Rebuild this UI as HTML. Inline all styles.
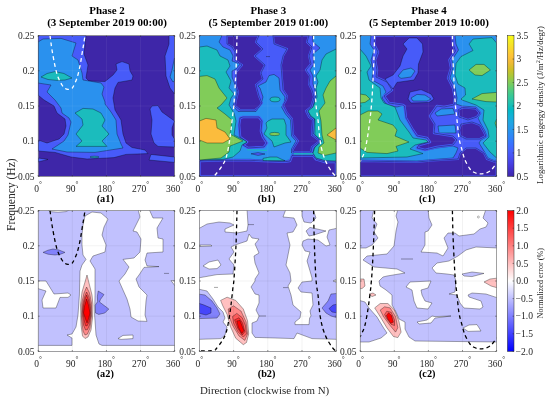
<!DOCTYPE html>
<html><head><meta charset="utf-8"><title>Directional spectra</title>
<style>
html,body{margin:0;padding:0;background:#fff;}
svg{display:block;}
text{font-family:"Liberation Serif","DejaVu Serif",serif;fill:#262626;}
.b{font-weight:bold;fill:#000;}
</style></head><body>
<svg width="550" height="399" viewBox="0 0 550 399">
<rect width="550" height="399" fill="#fff"/>
<clipPath id="c00"><rect x="38.2" y="35.6" width="136.5" height="140.8"/></clipPath>
<g clip-path="url(#c00)">
<rect x="38.2" y="35.6" width="136.5" height="140.8" fill="#3e26a8"/>
<polygon points="38,35.5 86,35.5 84,54 88,65 86,78 89,81 105,81.5 113,75 117,70 116,64 122,61.6 129,64 130,71 133,76 132,80 118,82.4 115,88 113,98 115,110 121,120 123,134 126,143 132,147.5 145,150 148,153.6 126,154.4 114,157.6 107,158 87,159 71,157 55,152.4 38,151 38,140 47,143 59,139 64,134 66,126 65,119 57,113 54,106 44,100 38,95" fill="#475bf9" stroke="#000" stroke-width="0.45" stroke-opacity="0.75" stroke-linejoin="round" />
<polygon points="38,158 48,159.4 38,162" fill="#475bf9" stroke="#000" stroke-width="0.45" stroke-opacity="0.75" stroke-linejoin="round" />
<polygon points="169,35.5 169,44 165,56 166,76 170,88 174.5,94 174.5,35.5" fill="#475bf9" stroke="#000" stroke-width="0.45" stroke-opacity="0.75" stroke-linejoin="round" />
<polygon points="150,109 152,106 158,105.6 162,112 174.5,121 172,128 172,135 174.5,139 174.5,147 158,146.4 154,143 151,134 152,120" fill="#475bf9" stroke="#000" stroke-width="0.45" stroke-opacity="0.75" stroke-linejoin="round" />
<polygon points="149,160 151,154.4 174.5,157 174.5,162.4" fill="#475bf9" stroke="#000" stroke-width="0.45" stroke-opacity="0.75" stroke-linejoin="round" />
<polygon points="38,42 43,39 61,38.4 76,43 72,56 78,60 82,73 83,80 101,83 104,87 102,94 105,102 105,104 111,112 116,120 117,134 121,144 123,148 95,152.4 67,152 52,149 64,141 68,135 71,122 69,118 62,113 61,108 55,100 47,92 51,85 38,83" fill="#2a91ee" stroke="#000" stroke-width="0.45" stroke-opacity="0.75" stroke-linejoin="round" />
<polygon points="174.5,58 172,70 170,77 173,82 174.5,81" fill="#2a91ee" stroke="#000" stroke-width="0.45" stroke-opacity="0.75" stroke-linejoin="round" />
<polygon points="41,77 47,73.5 55,71.6 64,73.5 72,78 65,80 57,80.4 48,79.5" fill="#1bbcbd" stroke="#000" stroke-width="0.45" stroke-opacity="0.75" stroke-linejoin="round" />
<polygon points="75,113 83,108.4 93,109 101,113 105,120 102,126 109,134 102,141 107,146.4 76,146.4 82,141 76,134 83,125 82,119" fill="#1bbcbd" stroke="#000" stroke-width="0.45" stroke-opacity="0.75" stroke-linejoin="round" />
<ellipse cx="94.5" cy="157" rx="4.5" ry="0.8" fill="#1bbcbd" stroke="#000" stroke-width="0.45" stroke-opacity="0.75" stroke-linejoin="round"/>
<line x1="72.325" y1="35.6" x2="72.325" y2="176.4" stroke="#fff" stroke-opacity="0.12" stroke-width="0.5"/>
<line x1="38.2" y1="70.8" x2="174.7" y2="70.8" stroke="#fff" stroke-opacity="0.12" stroke-width="0.5"/>
<line x1="106.45" y1="35.6" x2="106.45" y2="176.4" stroke="#fff" stroke-opacity="0.12" stroke-width="0.5"/>
<line x1="38.2" y1="106" x2="174.7" y2="106" stroke="#fff" stroke-opacity="0.12" stroke-width="0.5"/>
<line x1="140.575" y1="35.6" x2="140.575" y2="176.4" stroke="#fff" stroke-opacity="0.12" stroke-width="0.5"/>
<line x1="38.2" y1="141.2" x2="174.7" y2="141.2" stroke="#fff" stroke-opacity="0.12" stroke-width="0.5"/>
<path d="M50,35.5 C50.17,36.75 50.67,40.58 51.00,43.00 C51.33,45.42 51.33,46.17 52.00,50.00 C52.67,53.83 54.00,61.50 55.00,66.00 C56.00,70.50 56.83,73.83 58.00,77.00 C59.17,80.17 60.83,83.12 62.00,85.00 C63.17,86.88 64.00,87.57 65.00,88.30 C66.00,89.03 67.00,89.35 68.00,89.40 C69.00,89.45 70.17,89.00 71.00,88.60 C71.83,88.20 72.00,88.77 73.00,87.00 C74.00,85.23 75.83,81.50 77.00,78.00 C78.17,74.50 79.17,70.00 80.00,66.00 C80.83,62.00 81.42,57.50 82.00,54.00 C82.58,50.50 83.00,48.08 83.50,45.00 C84.00,41.92 84.75,37.08 85.00,35.50" fill="none" stroke="#fff" stroke-width="1.3" stroke-dasharray="3.8,3.2"/>
</g>
<rect x="38.2" y="35.6" width="136.5" height="140.8" fill="none" stroke="#555" stroke-width="0.55"/>
<clipPath id="c01"><rect x="199.4" y="35.6" width="136.8" height="140.8"/></clipPath>
<g clip-path="url(#c01)">
<rect x="199.4" y="35.6" width="136.8" height="140.8" fill="#475bf9"/>
<polygon points="199.5,35.5 222,35.5 219,42 223,47 230,50 233,56 232,61 240,64 236,69 232,71 232,77 234,82 237,92 235,100 233,106 238,111.5 256,111.5 261,104.5 263,97 260,88 258,86 266,82 269,75.6 274,74.4 279,78 280,90 285,97 284,104 281.5,107 285.5,114 290.5,120 291.5,136 296,141 291.5,149 291.5,153 313,153 314,148 321.5,141 313.5,134 314.5,119 310.5,116.5 308,111 313,107 315.5,97 315,90 313,84 313,76 310,70 314,64 313,54 320,48 313,42 312.5,35.5 336,35.5 336,161 325,161 316,158.5 313.5,154.5 292,154.5 290,160 285,160.7 263,160 250,159.3 223,159.4 199.5,160" fill="#2a91ee" stroke="#000" stroke-width="0.45" stroke-opacity="0.75" stroke-linejoin="round" />
<polygon points="227,35.5 259,35.5 256,42 263,49 255,56 265,65 261,73 263,79 256,85 259,96 262,103 259,107 255,110 240,110 235,106 236,100 238,92 236,86 236,72 242,65 235,60 235,52 232,47 227,44" fill="#3e26a8" stroke="#475bf9" stroke-width="2" stroke-linejoin="round"/>
<polygon points="227,35.5 259,35.5 256,42 263,49 255,56 265,65 261,73 263,79 256,85 259,96 262,103 259,107 255,110 240,110 235,106 236,100 238,92 236,86 236,72 242,65 235,60 235,52 232,47 227,44" fill="none" stroke="#000" stroke-width="0.45" stroke-opacity="0.75" stroke-linejoin="round"/>
<polygon points="273,35.5 274,44 287,49 283,56 281,65 282,78 283,90 287,96 286,100 283,105 287,113 292,119 293,135 298,141 293,149 293,152 311,152 312,147 320,141 312,135 313,120 309,117 306,111 311,107 314,97 312,90 309,84 310,76 306,70 311,64 309,56 312,47 307,42 309,35.5" fill="#3e26a8" stroke="#475bf9" stroke-width="2" stroke-linejoin="round"/>
<polygon points="273,35.5 274,44 287,49 283,56 281,65 282,78 283,90 287,96 286,100 283,105 287,113 292,119 293,135 298,141 293,149 293,152 311,152 312,147 320,141 312,135 313,120 309,117 306,111 311,107 314,97 312,90 309,84 310,76 306,70 311,64 309,56 312,47 307,42 309,35.5" fill="none" stroke="#000" stroke-width="0.45" stroke-opacity="0.75" stroke-linejoin="round"/>
<polygon points="199.5,161 223,160.4 250,160.3 263,161 285,161.7 290,161 292,155.5 313,155.5 316,159.4 325,162 336,162 336,176.5 199.5,176.5" fill="#3e26a8" stroke="#475bf9" stroke-width="2.4" stroke-linejoin="round"/>
<polygon points="199.5,161 223,160.4 250,160.3 263,161 285,161.7 290,161 292,155.5 313,155.5 316,159.4 325,162 336,162 336,176.5 199.5,176.5" fill="none" stroke="#000" stroke-width="0.45" stroke-opacity="0.75" stroke-linejoin="round"/>
<polygon points="240,118 243,117 259,117 262,121 261,131 263,137 267,143 264,147 248,148 243,145 247,142 240,137 239,125" fill="#3e26a8" stroke="#475bf9" stroke-width="2.6" stroke-linejoin="round"/>
<polygon points="240,118 243,117 259,117 262,121 261,131 263,137 267,143 264,147 248,148 243,145 247,142 240,137 239,125" fill="none" stroke="#000" stroke-width="0.45" stroke-opacity="0.75" stroke-linejoin="round"/>
<polygon points="251,153.8 258,152.6 265,154 258,155.4" fill="#475bf9" stroke="#000" stroke-width="0.45" stroke-opacity="0.75" stroke-linejoin="round" />
<polygon points="199.5,47 207,46 217,50 220,56 228,60 230,66 226,72 231,81 229,88 234,94 231,98 229,105 234,113 236,121 234,135 244,140 247,142 242,145 240,151 233,157 223,159.4 199.5,160" fill="#1bbcbd" stroke="#000" stroke-width="0.45" stroke-opacity="0.75" stroke-linejoin="round" />
<ellipse cx="275" cy="99.4" rx="5" ry="2.4" fill="#1bbcbd" stroke="#000" stroke-width="0.45" stroke-opacity="0.75" stroke-linejoin="round"/>
<polygon points="268,121 272,119 284,119 286,125 286,135 291,142 285,143 274,147 272,141 264,134 267,128 266,123" fill="#1bbcbd" stroke="#000" stroke-width="0.45" stroke-opacity="0.75" stroke-linejoin="round" />
<polygon points="263,158.4 270,157 277,157 281,159 285,160.7 263,160.5" fill="#1bbcbd" stroke="#000" stroke-width="0.45" stroke-opacity="0.75" stroke-linejoin="round" />
<polygon points="294,153.2 313,153.2 313,154.4 294,154.4" fill="#1bbcbd"  />
<polygon points="247,149.2 267,150 267,150.9 247,150.2" fill="#1bbcbd"  />
<polygon points="336,49 326,54 322,60 320,70 316,76 318,82 316,88 317,97 313,107 308,111 311,116 315,119 315,135 322,141 315,147 313,153 316,158 325,160.6 336,161" fill="#1bbcbd" stroke="#000" stroke-width="0.45" stroke-opacity="0.75" stroke-linejoin="round" />
<polygon points="199.5,76.4 207,75.6 215,79 219,88 227,98 221,105 217,108 225,114 232,120 230,134 243,141 230,146 229,152 221,158 199.5,160" fill="#81cc59" stroke="#000" stroke-width="0.45" stroke-opacity="0.75" stroke-linejoin="round" />
<polygon points="336,76 330,81 326,88 323,95 325,103 319,111 321,121 322,135 324,143 319,147 318,153 325,155.4 336,153" fill="#81cc59" stroke="#000" stroke-width="0.45" stroke-opacity="0.75" stroke-linejoin="round" />
<ellipse cx="274.6" cy="134" rx="5" ry="1.6" fill="#81cc59" stroke="#000" stroke-width="0.45" stroke-opacity="0.75" stroke-linejoin="round"/>
<polygon points="199.5,121 206,118.4 216,120 217,128 225,132 230,139 223,143 207,143 199.5,140" fill="#fbbc3d" stroke="#000" stroke-width="0.45" stroke-opacity="0.75" stroke-linejoin="round" />
<polygon points="336,128 327,135 336,140" fill="#fbbc3d" stroke="#000" stroke-width="0.45" stroke-opacity="0.75" stroke-linejoin="round" />
<line x1="266" y1="56.6" x2="270" y2="56.6" stroke="#000" stroke-opacity="0.7" stroke-width="0.5"/>
<line x1="233.6" y1="35.6" x2="233.6" y2="176.4" stroke="#fff" stroke-opacity="0.12" stroke-width="0.5"/>
<line x1="199.4" y1="70.8" x2="336.2" y2="70.8" stroke="#fff" stroke-opacity="0.12" stroke-width="0.5"/>
<line x1="267.8" y1="35.6" x2="267.8" y2="176.4" stroke="#fff" stroke-opacity="0.12" stroke-width="0.5"/>
<line x1="199.4" y1="106" x2="336.2" y2="106" stroke="#fff" stroke-opacity="0.12" stroke-width="0.5"/>
<line x1="302" y1="35.6" x2="302" y2="176.4" stroke="#fff" stroke-opacity="0.12" stroke-width="0.5"/>
<line x1="199.4" y1="141.2" x2="336.2" y2="141.2" stroke="#fff" stroke-opacity="0.12" stroke-width="0.5"/>
<path d="M237,35.5 C236.83,41.25 236.50,58.58 236.00,70.00 C235.50,81.42 234.50,97.00 234.00,104.00 C233.50,111.00 233.50,107.67 233.00,112.00 C232.50,116.33 231.67,124.67 231.00,130.00 C230.33,135.33 229.83,139.33 229.00,144.00 C228.17,148.67 227.17,154.33 226.00,158.00 C224.83,161.67 223.67,163.33 222.00,166.00 C220.33,168.67 217.50,172.25 216.00,174.00 C214.50,175.75 213.50,176.08 213.00,176.50" fill="none" stroke="#fff" stroke-width="1.3" stroke-dasharray="3.8,3.2"/>
<path d="M313.6,35.5 C313.67,38.92 313.83,49.25 314.00,56.00 C314.17,62.75 314.33,69.00 314.60,76.00 C314.87,83.00 315.28,92.33 315.60,98.00 C315.92,103.67 316.10,106.33 316.50,110.00 C316.90,113.67 317.42,115.00 318.00,120.00 C318.58,125.00 319.17,134.33 320.00,140.00 C320.83,145.67 321.83,150.00 323.00,154.00 C324.17,158.00 325.50,161.00 327.00,164.00 C328.50,167.00 330.50,169.92 332.00,172.00 C333.50,174.08 335.33,175.75 336.00,176.50" fill="none" stroke="#fff" stroke-width="1.3" stroke-dasharray="3.8,3.2"/>
</g>
<rect x="199.4" y="35.6" width="136.8" height="140.8" fill="none" stroke="#555" stroke-width="0.55"/>
<clipPath id="c02"><rect x="360.2" y="35.6" width="136.4" height="140.8"/></clipPath>
<g clip-path="url(#c02)">
<rect x="360.2" y="35.6" width="136.4" height="140.8" fill="#475bf9"/>
<polygon points="360,35.5 371,35.5 370,44 374,50 371,60 373,70 372,80 383,86 386,92 382,98 387,105 397,107 404,105 406,118 413,130 417,136 427,138 430,142 419,145 417,148 425,150.5 437,148 453,146 458,148 456,153 453,158 432,159.6 417,161 360,160" fill="#2a91ee" stroke="#000" stroke-width="0.45" stroke-opacity="0.75" stroke-linejoin="round" />
<polygon points="435,113 441,109 453,108.4 455,114 437,116" fill="#2a91ee" stroke="#000" stroke-width="0.45" stroke-opacity="0.75" stroke-linejoin="round" />
<polygon points="438,126 455,125 456,133 439,133" fill="#2a91ee" stroke="#000" stroke-width="0.45" stroke-opacity="0.75" stroke-linejoin="round" />
<polygon points="455,35.5 456,44 458.5,50 452,60 453,68 450,78 455,87 457,98 456,104 462,106 476,107 481,113 478,118 481,124 485,131 487,136.5 481,140 479,143 484,151 488,158 494,160.5 496.6,160 496.6,35.5" fill="#2a91ee" stroke="#000" stroke-width="0.45" stroke-opacity="0.75" stroke-linejoin="round" />
<polygon points="375,35.5 452.5,35.5 453,44 455.5,51 449.5,60 451,68 448,78 453,88 455,98 454,105 444,107 437,106 430,116 435,124 434,133 453,136 457,140 453,145 437,147 425,150 417,148 419,145 430,142 427,138 417,136 413,130 406,118 404.5,106 403,105 389,103 384,96 392,90 387,82 376,77 377,70 375,60 378,52 374,44" fill="#3e26a8" stroke="#475bf9" stroke-width="2.4" stroke-linejoin="round"/>
<polygon points="375,35.5 452.5,35.5 453,44 455.5,51 449.5,60 451,68 448,78 453,88 455,98 454,105 444,107 437,106 430,116 435,124 434,133 453,136 457,140 453,145 437,147 425,150 417,148 419,145 430,142 427,138 417,136 413,130 406,118 404.5,106 403,105 389,103 384,96 392,90 387,82 376,77 377,70 375,60 378,52 374,44" fill="none" stroke="#000" stroke-width="0.45" stroke-opacity="0.75" stroke-linejoin="round"/>
<polygon points="403,44 409,38 417,38 422.5,44 423,52 418.5,64 418,73 414,80 397,82.4 393,89 388,83 385,79 393,75 400,66 403,56 407,49" fill="#475bf9" stroke="#000" stroke-width="0.45" stroke-opacity="0.75" stroke-linejoin="round" />
<polygon points="408,99 410,92 421,89.6 431,94 434,99 429,102.4 411,103" fill="#475bf9" stroke="#000" stroke-width="0.45" stroke-opacity="0.75" stroke-linejoin="round" />
<polygon points="398,76 403,70 411,68 415,71 411,77 401,78.4" fill="#2a91ee" stroke="#000" stroke-width="0.45" stroke-opacity="0.75" stroke-linejoin="round" />
<polygon points="411,98 417,94.4 425,95 431,99 427,101 413,101" fill="#2a91ee" stroke="#000" stroke-width="0.45" stroke-opacity="0.75" stroke-linejoin="round" />
<polygon points="458,110 462,107.5 476,108.5 480,113 477,117 468,120 459,117" fill="#3e26a8" stroke="#475bf9" stroke-width="2.2" stroke-linejoin="round"/>
<polygon points="458,110 462,107.5 476,108.5 480,113 477,117 468,120 459,117" fill="none" stroke="#000" stroke-width="0.45" stroke-opacity="0.75" stroke-linejoin="round"/>
<polygon points="461,124 472,122 480,125 484,132 486,136 480,139 466,139 460,136 459,130" fill="#3e26a8" stroke="#475bf9" stroke-width="2.2" stroke-linejoin="round"/>
<polygon points="461,124 472,122 480,125 484,132 486,136 480,139 466,139 460,136 459,130" fill="none" stroke="#000" stroke-width="0.45" stroke-opacity="0.75" stroke-linejoin="round"/>
<polygon points="360,161 417,162 432,160.6 458,159 460,153 466,148 476,148 484,153 487,159 494,161.5 496.6,161 496.6,176.5 360,176.5" fill="#3e26a8" stroke="#475bf9" stroke-width="2" stroke-linejoin="round"/>
<polygon points="360,161 417,162 432,160.6 458,159 460,153 466,148 476,148 484,153 487,159 494,161.5 496.6,161 496.6,176.5 360,176.5" fill="none" stroke="#000" stroke-width="0.45" stroke-opacity="0.75" stroke-linejoin="round"/>
<polygon points="360,49 366,56 371,66 367,72 369,80 380,88 381,98 384,103 395,107 400,120 409,132 413,138 426,140 428,142 415,145 410,149 423,153.6 407,157 360,158" fill="#1bbcbd" stroke="#000" stroke-width="0.45" stroke-opacity="0.75" stroke-linejoin="round" />
<polygon points="469,44 473,39 492,37.6 496.6,43 496.6,158 490,152 483,143 489,137 488,130 483,120 484,110 476,105 462,100 461,99 465.5,95 465,88 458,84 455,75 456,63.5 461,56.5 473,50.5 470,45.5" fill="#1bbcbd" stroke="#000" stroke-width="0.45" stroke-opacity="0.75" stroke-linejoin="round" />
<polygon points="360,94 366,95 370,99 365,102.4 360,103" fill="#81cc59" stroke="#000" stroke-width="0.45" stroke-opacity="0.75" stroke-linejoin="round" />
<polygon points="360,115 368,111 378,111 382,114 378,120 393,125 397,130 395,136 409,142 396,146.4 398,151 387,153.6 367,152.4 360,148" fill="#81cc59" stroke="#000" stroke-width="0.45" stroke-opacity="0.75" stroke-linejoin="round" />
<polygon points="469,70 476,64.4 484,64.4 490.4,70 482,75.6 475,75" fill="#81cc59" stroke="#000" stroke-width="0.45" stroke-opacity="0.75" stroke-linejoin="round" />
<polygon points="472,99 482,93.6 496.6,92.4 496.6,102 486,101.6" fill="#81cc59" stroke="#000" stroke-width="0.45" stroke-opacity="0.75" stroke-linejoin="round" />
<polygon points="496.6,119 495,123 496.6,128" fill="#81cc59" stroke="#000" stroke-width="0.45" stroke-opacity="0.75" stroke-linejoin="round" />
<line x1="394.3" y1="35.6" x2="394.3" y2="176.4" stroke="#fff" stroke-opacity="0.12" stroke-width="0.5"/>
<line x1="360.2" y1="70.8" x2="496.6" y2="70.8" stroke="#fff" stroke-opacity="0.12" stroke-width="0.5"/>
<line x1="428.4" y1="35.6" x2="428.4" y2="176.4" stroke="#fff" stroke-opacity="0.12" stroke-width="0.5"/>
<line x1="360.2" y1="106" x2="496.6" y2="106" stroke="#fff" stroke-opacity="0.12" stroke-width="0.5"/>
<line x1="462.5" y1="35.6" x2="462.5" y2="176.4" stroke="#fff" stroke-opacity="0.12" stroke-width="0.5"/>
<line x1="360.2" y1="141.2" x2="496.6" y2="141.2" stroke="#fff" stroke-opacity="0.12" stroke-width="0.5"/>
<path d="M374.6,35.5 C374.50,38.92 374.27,48.58 374.00,56.00 C373.73,63.42 373.33,73.00 373.00,80.00 C372.67,87.00 372.33,93.00 372.00,98.00 C371.67,103.00 371.23,107.33 371.00,110.00 C370.77,112.67 371.10,110.00 370.60,114.00 C370.10,118.00 368.93,128.00 368.00,134.00 C367.07,140.00 366.00,146.00 365.00,150.00 C364.00,154.00 362.83,156.00 362.00,158.00 C361.17,160.00 360.33,161.33 360.00,162.00" fill="none" stroke="#fff" stroke-width="1.3" stroke-dasharray="3.8,3.2"/>
<path d="M452.4,35.5 C452.50,39.58 452.67,50.92 453.00,60.00 C453.33,69.08 454.00,82.50 454.40,90.00 C454.80,97.50 454.97,100.00 455.40,105.00 C455.83,110.00 456.40,114.50 457.00,120.00 C457.60,125.50 458.17,133.00 459.00,138.00 C459.83,143.00 461.00,146.33 462.00,150.00 C463.00,153.67 463.67,156.83 465.00,160.00 C466.33,163.17 468.50,166.95 470.00,169.00 C471.50,171.05 472.67,171.53 474.00,172.30 C475.33,173.07 476.67,173.35 478.00,173.60 C479.33,173.85 480.67,173.90 482.00,173.80 C483.33,173.70 484.67,173.47 486.00,173.00 C487.33,172.53 488.83,171.83 490.00,171.00 C491.17,170.17 491.90,169.33 493.00,168.00 C494.10,166.67 496.00,163.83 496.60,163.00" fill="none" stroke="#fff" stroke-width="1.3" stroke-dasharray="3.8,3.2"/>
</g>
<rect x="360.2" y="35.6" width="136.4" height="140.8" fill="none" stroke="#555" stroke-width="0.55"/>
<clipPath id="c10"><rect x="38.2" y="210.6" width="136.5" height="140.8"/></clipPath>
<g clip-path="url(#c10)">
<rect x="38.2" y="210.6" width="136.5" height="140.8" fill="#c1c1fe"/>
<polygon points="85,216 92,212 101,213 108,219 104,227 102,235 106,245 105,252 93,256 90,261 95,269 95,295 94.6,315 96,335 99,344 102,345.4 176,345.4 176,353 36,353 36,345.4 72,345.4 72,338 67,335 72,334 76,327 78,315 79.4,295 80,271 82,265 86,259.4 83,255 82,245 82,235 83,225" fill="#ffffff" stroke="#000" stroke-width="0.45" stroke-opacity="0.75" stroke-linejoin="round" />
<polygon points="138,209 149,209 153,218 163,218 157,228 158,238 163,239 163,252 147,253 145,260 147,266 159,266.6 144,267.4 139,275 136,279 139,287 147,295 146,301 145,315 147,321.4 138,321 131,317 130,309 127,299 119,281 125,274 129,267 123,259.4 134,258 140,252 141,239 137,232 133,231 137,223 140,217" fill="#ffffff" stroke="#000" stroke-width="0.45" stroke-opacity="0.75" stroke-linejoin="round" />
<polygon points="36,281 46,281 54,294 68,293 71,295 68,297.4 60,297.4 56,308 43,308 42,300 46,291 36,288" fill="#ffffff" stroke="#000" stroke-width="0.45" stroke-opacity="0.75" stroke-linejoin="round" />
<polygon points="118,338.6 123,335.4 133,335 133,338.6 121,339.4" fill="#ffffff" stroke="#000" stroke-width="0.45" stroke-opacity="0.75" stroke-linejoin="round" />
<polygon points="171,280.6 176,280.6 176,287" fill="#ffffff" stroke="#000" stroke-width="0.45" stroke-opacity="0.75" stroke-linejoin="round" />
<polygon points="47,209 71,209 66,211.6 58,212.2 50,211.6" fill="#ffffff" stroke="#000" stroke-width="0.45" stroke-opacity="0.75" stroke-linejoin="round" />
<polygon points="43,252.4 48,250.2 53,249 59,250 65,252.4 60,254.4 55,255 48,254.2" fill="#8282fb" stroke="#000" stroke-width="0.45" stroke-opacity="0.75" stroke-linejoin="round" />
<polygon points="98.2,291 104,294.6 100.4,299.5 99.5,302 108.8,309 104.8,313 98.7,314.4 95.6,313 95.2,305.2 97.6,301.7 97.4,296.4" fill="#8282fb" stroke="#000" stroke-width="0.45" stroke-opacity="0.75" stroke-linejoin="round" />
<polygon points="87,275 89.5,285 92,295 93,305 92.5,318 91,330 88,337 85,338.5 82.5,336 81,325 80.5,305 82,292 85,282" fill="#ffc0c0" stroke="#000" stroke-width="0.45" stroke-opacity="0.75" stroke-linejoin="round" />
<polygon points="86.6,287 89.5,293 91.5,303 91.5,316 90,328 87.5,334 85,335 83,331 81.5,318 81.8,303 84,293" fill="#ff8888" stroke="#000" stroke-width="0.45" stroke-opacity="0.75" stroke-linejoin="round" />
<polygon points="86.6,292 89,297 90.8,306 90.8,316 89.5,325 87.5,329.5 85.5,330 83.5,325 82.3,314 82.8,304 84.5,297" fill="#ff5c5c" stroke="#000" stroke-width="0.45" stroke-opacity="0.75" stroke-linejoin="round" />
<polygon points="86.6,295 88.5,300 90.2,308 90.2,316 89,322 87,326 85.5,325.5 84,320 83,312 83.5,305 85,299" fill="#ff3030" stroke="#000" stroke-width="0.45" stroke-opacity="0.75" stroke-linejoin="round" />
<polygon points="86.6,299 88.5,305 90,313 88.5,319 87,323 85.5,319 83.5,313 84.5,306" fill="#ff0000" stroke="#000" stroke-width="0.45" stroke-opacity="0.75" stroke-linejoin="round" />
<line x1="164" y1="273.4" x2="169" y2="273.4" stroke="#000" stroke-opacity="0.7" stroke-width="0.5"/>
<line x1="72.325" y1="210.6" x2="72.325" y2="351.4" stroke="#000" stroke-opacity="0.1" stroke-width="0.5"/>
<line x1="38.2" y1="245.8" x2="174.7" y2="245.8" stroke="#000" stroke-opacity="0.1" stroke-width="0.5"/>
<line x1="106.45" y1="210.6" x2="106.45" y2="351.4" stroke="#000" stroke-opacity="0.1" stroke-width="0.5"/>
<line x1="38.2" y1="281" x2="174.7" y2="281" stroke="#000" stroke-opacity="0.1" stroke-width="0.5"/>
<line x1="140.575" y1="210.6" x2="140.575" y2="351.4" stroke="#000" stroke-opacity="0.1" stroke-width="0.5"/>
<line x1="38.2" y1="316.2" x2="174.7" y2="316.2" stroke="#000" stroke-opacity="0.1" stroke-width="0.5"/>
<path d="M50,210.5 C50.17,211.75 50.67,215.58 51.00,218.00 C51.33,220.42 51.33,221.17 52.00,225.00 C52.67,228.83 54.00,236.50 55.00,241.00 C56.00,245.50 56.83,248.83 58.00,252.00 C59.17,255.17 60.83,258.12 62.00,260.00 C63.17,261.88 64.00,262.57 65.00,263.30 C66.00,264.03 67.00,264.35 68.00,264.40 C69.00,264.45 70.17,264.00 71.00,263.60 C71.83,263.20 72.00,263.77 73.00,262.00 C74.00,260.23 75.83,256.50 77.00,253.00 C78.17,249.50 79.17,245.00 80.00,241.00 C80.83,237.00 81.42,232.50 82.00,229.00 C82.58,225.50 83.00,223.08 83.50,220.00 C84.00,216.92 84.75,212.08 85.00,210.50" fill="none" stroke="#000" stroke-width="1.3" stroke-dasharray="3.8,3.2"/>
</g>
<rect x="38.2" y="210.6" width="136.5" height="140.8" fill="none" stroke="#555" stroke-width="0.55"/>
<clipPath id="c11"><rect x="199.4" y="210.6" width="136.8" height="140.8"/></clipPath>
<g clip-path="url(#c11)">
<rect x="199.4" y="210.6" width="136.8" height="140.8" fill="#c1c1fe"/>
<polygon points="198,209 247,209 248,225 247,231 237,233 225,232 225,229 234,225 230,223 219,222 207,224 198,229" fill="#ffffff" stroke="#000" stroke-width="0.45" stroke-opacity="0.75" stroke-linejoin="round" />
<polygon points="249,234 252,238 259,239 255,244 259,253 254,256 255,263 259,273 255,279 255,281 251,287 255,294 259,295 259,303 256,310 259,316 257,321 252,323 252,333 255,337.4 294,338.6 297,333 312,338.6 338,339.4 338,353 198,353 198,339.4 221,338.6 225,335 227,327 223,322 225,318 223,312 218,307 213,299 207,291 198,289 198,278 217,274.6 233,274 234,265 229,259 234,252 231,247 235,245 247,241" fill="#ffffff" stroke="#000" stroke-width="0.45" stroke-opacity="0.75" stroke-linejoin="round" />
<polygon points="198,245 211,245 212,246 198,246.6" fill="#ffffff" stroke="#000" stroke-width="0.45" stroke-opacity="0.75" stroke-linejoin="round" />
<polygon points="203,266 209,262 218,260 221,265 217,268.6 209,269" fill="#ffffff" stroke="#000" stroke-width="0.45" stroke-opacity="0.75" stroke-linejoin="round" />
<polygon points="286,209 283,217 294,218 297,225 293,232 287,233 290,245 288,255 286,265 290,273 291,281 288,286 291,295 293,305 301,312 300,318 295,322 295,324.6 309,324.6 309.6,318 311,316 310,311 313,305 312,293 301,292 298,288 302,282 312,281 312,278 310,271 307,261 310,252 305,251 302,245 303,241 308,239 318,240 326,246 330,245 327,237 329,230 338,228 338,209" fill="#ffffff" stroke="#000" stroke-width="0.45" stroke-opacity="0.75" stroke-linejoin="round" />
<polygon points="302,209 313,209 316,218 311,223 304,222 302,216" fill="#c1c1fe" stroke="#000" stroke-width="0.45" stroke-opacity="0.75" stroke-linejoin="round" />
<polygon points="306,231 310,227.4 326,231 314,235 309,236" fill="#c1c1fe" stroke="#000" stroke-width="0.45" stroke-opacity="0.75" stroke-linejoin="round" />
<polygon points="333,281 338,278.5 338,283" fill="#ffffff" stroke="#000" stroke-width="0.45" stroke-opacity="0.75" stroke-linejoin="round" />
<polygon points="198,294 205,295 212,301 217,308 220,314 217,318 198,318.6" fill="#8282fb" stroke="#000" stroke-width="0.45" stroke-opacity="0.75" stroke-linejoin="round" />
<polygon points="198,303 204,305 211,308 211,313 206,315 198,313" fill="#4646fa" stroke="#000" stroke-width="0.45" stroke-opacity="0.75" stroke-linejoin="round" />
<polygon points="322,308 328,301 331,294 338,293.4 338,318 331,316 326,313" fill="#8282fb" stroke="#000" stroke-width="0.45" stroke-opacity="0.75" stroke-linejoin="round" />
<polygon points="329,308.6 333,305 338,304 338,313 332,312" fill="#4646fa" stroke="#000" stroke-width="0.45" stroke-opacity="0.75" stroke-linejoin="round" />
<polygon points="220.6,300.4 227.1,297.2 235.7,300.4 243.3,309 247.6,320.9 248.7,333.9 246.5,342.5 243.3,344.7 235.7,338.2 230.3,326.3 227.1,314.4 222.8,305.8" fill="#ffc0c0" stroke="#000" stroke-width="0.45" stroke-opacity="0.75" stroke-linejoin="round" />
<polygon points="228.2,309 233.6,305.8 241.1,311.2 246.1,322 247.6,333.9 244.8,340.4 239,336 232.5,325.2 229.2,316.6" fill="#ff8888" stroke="#000" stroke-width="0.45" stroke-opacity="0.75" stroke-linejoin="round" />
<polygon points="232.5,316.6 236.8,313.4 242.2,317.7 245.4,325.2 246.5,333.9 243.3,337.1 237.9,331.7 233.6,323.1" fill="#ff5c5c" stroke="#000" stroke-width="0.45" stroke-opacity="0.75" stroke-linejoin="round" />
<polygon points="234.6,319.8 239,317.7 242.6,323.1 244.8,331.7 242.2,335 237.9,328.5" fill="#ff3030" stroke="#000" stroke-width="0.45" stroke-opacity="0.75" stroke-linejoin="round" />
<polygon points="236.8,320.9 240,320.5 241.8,325.2 243.9,330.6 241.8,333.4 238.3,327.4" fill="#ff0000" stroke="#000" stroke-width="0.45" stroke-opacity="0.75" stroke-linejoin="round" />
<line x1="214" y1="287.4" x2="218" y2="287.4" stroke="#000" stroke-opacity="0.7" stroke-width="0.5"/>
<line x1="248" y1="224.6" x2="254" y2="224.6" stroke="#000" stroke-opacity="0.7" stroke-width="0.5"/>
<line x1="259" y1="316" x2="266" y2="316" stroke="#000" stroke-opacity="0.7" stroke-width="0.5"/>
<line x1="283" y1="287.6" x2="288" y2="287.6" stroke="#000" stroke-opacity="0.7" stroke-width="0.5"/>
<line x1="233.6" y1="210.6" x2="233.6" y2="351.4" stroke="#000" stroke-opacity="0.1" stroke-width="0.5"/>
<line x1="199.4" y1="245.8" x2="336.2" y2="245.8" stroke="#000" stroke-opacity="0.1" stroke-width="0.5"/>
<line x1="267.8" y1="210.6" x2="267.8" y2="351.4" stroke="#000" stroke-opacity="0.1" stroke-width="0.5"/>
<line x1="199.4" y1="281" x2="336.2" y2="281" stroke="#000" stroke-opacity="0.1" stroke-width="0.5"/>
<line x1="302" y1="210.6" x2="302" y2="351.4" stroke="#000" stroke-opacity="0.1" stroke-width="0.5"/>
<line x1="199.4" y1="316.2" x2="336.2" y2="316.2" stroke="#000" stroke-opacity="0.1" stroke-width="0.5"/>
<path d="M237,210.5 C236.83,216.25 236.50,233.58 236.00,245.00 C235.50,256.42 234.50,272.00 234.00,279.00 C233.50,286.00 233.50,282.67 233.00,287.00 C232.50,291.33 231.67,299.67 231.00,305.00 C230.33,310.33 229.83,314.33 229.00,319.00 C228.17,323.67 227.17,329.33 226.00,333.00 C224.83,336.67 223.67,338.33 222.00,341.00 C220.33,343.67 217.17,347.50 216.00,349.00 C214.83,350.50 215.58,349.73 215.00,350.00 C214.42,350.27 213.50,350.47 212.50,350.60 C211.50,350.73 211.25,350.77 209.00,350.80 C206.75,350.83 200.67,350.80 199.00,350.80" fill="none" stroke="#000" stroke-width="1.3" stroke-dasharray="3.8,3.2"/>
<path d="M313.6,210.5 C313.67,213.92 313.83,224.25 314.00,231.00 C314.17,237.75 314.33,244.00 314.60,251.00 C314.87,258.00 315.28,267.33 315.60,273.00 C315.92,278.67 316.10,281.33 316.50,285.00 C316.90,288.67 317.42,290.00 318.00,295.00 C318.58,300.00 319.17,309.33 320.00,315.00 C320.83,320.67 321.83,325.00 323.00,329.00 C324.17,333.00 325.50,336.00 327.00,339.00 C328.50,342.00 330.50,344.92 332.00,347.00 C333.50,349.08 335.33,350.75 336.00,351.50" fill="none" stroke="#000" stroke-width="1.3" stroke-dasharray="3.8,3.2"/>
</g>
<rect x="199.4" y="210.6" width="136.8" height="140.8" fill="none" stroke="#555" stroke-width="0.55"/>
<clipPath id="c12"><rect x="360.2" y="210.6" width="136.4" height="140.8"/></clipPath>
<g clip-path="url(#c12)">
<rect x="360.2" y="210.6" width="136.4" height="140.8" fill="#ffffff"/>
<polygon points="358,209 374,209 372,218 377,224 374,232 378,238 372,245 366,248 358,248" fill="#c1c1fe" stroke="#000" stroke-width="0.45" stroke-opacity="0.75" stroke-linejoin="round" />
<polygon points="398,209 428,209 429,218 432,225 428,231 425,232 425,245 421,252 437,253 443,256 448,248 444,238 448,233 455,233 459,236 474,234 480,229 486,227 488,223 483,218 486,209 498,209 498,248 476,247 466,250 458,256 449,261 437,263 432,268 436,273 447,274 454,275 456,281 455,292 449,294 457,295 460,303 464,308 480,309 483,307 481,301 469,297 468,295 472,293 486,294 498,298 498,342 415,341 409,337 405,329 405,322 399,319 396,312 392,305 392,295 386,290 380,286 379,281 383,277 387,276 405,273 397,269 374,267 363,260 367,256 387,254 394,246 396,231 398,222 396,216" fill="#c1c1fe" stroke="#000" stroke-width="0.45" stroke-opacity="0.75" stroke-linejoin="round" />
<polygon points="406,287 410,282 431,281 428,288 421,290 422,295 425,301 432,303 428,309 417,308 414,301 412,290" fill="#ffffff" stroke="#000" stroke-width="0.45" stroke-opacity="0.75" stroke-linejoin="round" />
<polygon points="417,322 427,320 432,316 435,316.6 451,316 435,318 431,323 419,324" fill="#ffffff" stroke="#000" stroke-width="0.45" stroke-opacity="0.75" stroke-linejoin="round" />
<polygon points="463,328 469,325 477,324.6 481,331 468,331.4" fill="#ffffff" stroke="#000" stroke-width="0.45" stroke-opacity="0.75" stroke-linejoin="round" />
<polygon points="358,300 365,302 369,308 377,317 383,327 387,333 381,338 369,342 358,342" fill="#c1c1fe" stroke="#000" stroke-width="0.45" stroke-opacity="0.75" stroke-linejoin="round" />
<polygon points="462,274 472,272 484,273.4 472,276.6 464,276" fill="#c1c1fe" stroke="#000" stroke-width="0.45" stroke-opacity="0.75" stroke-linejoin="round" />
<polygon points="358,279 364,279 365,286 362,288.6 358,288.6" fill="#ffc0c0" stroke="#000" stroke-width="0.45" stroke-opacity="0.75" stroke-linejoin="round" />
<polygon points="369,294 373,293 376,295 372,296.6" fill="#ffc0c0" stroke="#000" stroke-width="0.45" stroke-opacity="0.75" stroke-linejoin="round" />
<polygon points="484,282 490,279 498,278 498,288 491,286" fill="#ffc0c0" stroke="#000" stroke-width="0.45" stroke-opacity="0.75" stroke-linejoin="round" />
<polygon points="374.7,307.9 380.2,303.5 387.9,303.5 394.5,310.1 398.9,321.1 401.1,332.1 397.8,337.6 393.4,336.5 386.8,327.7 380.2,316.7" fill="#ffc0c0" stroke="#000" stroke-width="0.45" stroke-opacity="0.75" stroke-linejoin="round" />
<polygon points="380.2,310.1 384.6,306.8 390.1,307.9 395.6,316.7 397.8,327.7 395.6,332.1 390.1,325.5 383.5,316.7" fill="#ff8888" stroke="#000" stroke-width="0.45" stroke-opacity="0.75" stroke-linejoin="round" />
<polygon points="384.6,314.5 386.8,311.2 391.2,312.3 394.5,320 394.5,325.5 391.2,324.4 386.8,318.9" fill="#ff5c5c" stroke="#000" stroke-width="0.45" stroke-opacity="0.75" stroke-linejoin="round" />
<polygon points="386.4,315.6 388.6,312.7 391.6,315.6 393.4,322.2 390.8,323.3 387.9,319.3" fill="#ff0000" stroke="#000" stroke-width="0.45" stroke-opacity="0.75" stroke-linejoin="round" />
<line x1="401" y1="259" x2="413" y2="259" stroke="#000" stroke-opacity="0.7" stroke-width="0.5"/>
<circle cx="478.4" cy="217" r="1" fill="none" stroke="#000" stroke-opacity="0.7" stroke-width="0.4"/>
<line x1="394.3" y1="210.6" x2="394.3" y2="351.4" stroke="#000" stroke-opacity="0.1" stroke-width="0.5"/>
<line x1="360.2" y1="245.8" x2="496.6" y2="245.8" stroke="#000" stroke-opacity="0.1" stroke-width="0.5"/>
<line x1="428.4" y1="210.6" x2="428.4" y2="351.4" stroke="#000" stroke-opacity="0.1" stroke-width="0.5"/>
<line x1="360.2" y1="281" x2="496.6" y2="281" stroke="#000" stroke-opacity="0.1" stroke-width="0.5"/>
<line x1="462.5" y1="210.6" x2="462.5" y2="351.4" stroke="#000" stroke-opacity="0.1" stroke-width="0.5"/>
<line x1="360.2" y1="316.2" x2="496.6" y2="316.2" stroke="#000" stroke-opacity="0.1" stroke-width="0.5"/>
<path d="M374.6,210.5 C374.50,213.92 374.27,223.58 374.00,231.00 C373.73,238.42 373.33,248.00 373.00,255.00 C372.67,262.00 372.33,268.00 372.00,273.00 C371.67,278.00 371.23,282.33 371.00,285.00 C370.77,287.67 371.10,285.00 370.60,289.00 C370.10,293.00 368.93,303.00 368.00,309.00 C367.07,315.00 366.00,321.00 365.00,325.00 C364.00,329.00 362.83,331.00 362.00,333.00 C361.17,335.00 360.33,336.33 360.00,337.00" fill="none" stroke="#000" stroke-width="1.3" stroke-dasharray="3.8,3.2"/>
<path d="M452.4,210.5 C452.50,214.58 452.67,225.92 453.00,235.00 C453.33,244.08 454.00,257.50 454.40,265.00 C454.80,272.50 454.97,275.00 455.40,280.00 C455.83,285.00 456.40,289.50 457.00,295.00 C457.60,300.50 458.17,308.00 459.00,313.00 C459.83,318.00 461.00,321.33 462.00,325.00 C463.00,328.67 463.67,331.83 465.00,335.00 C466.33,338.17 468.50,341.95 470.00,344.00 C471.50,346.05 472.67,346.53 474.00,347.30 C475.33,348.07 476.67,348.35 478.00,348.60 C479.33,348.85 480.67,348.90 482.00,348.80 C483.33,348.70 484.67,348.47 486.00,348.00 C487.33,347.53 488.83,346.83 490.00,346.00 C491.17,345.17 491.90,344.33 493.00,343.00 C494.10,341.67 496.00,338.83 496.60,338.00" fill="none" stroke="#000" stroke-width="1.3" stroke-dasharray="3.8,3.2"/>
</g>
<rect x="360.2" y="210.6" width="136.4" height="140.8" fill="none" stroke="#555" stroke-width="0.55"/>
<text x="107.05" y="14.2" font-size="11.2" text-anchor="middle" class="b" textLength="35.6" lengthAdjust="spacingAndGlyphs">Phase 2</text>
<text x="107.05" y="26" font-size="11.2" text-anchor="middle" class="b" textLength="119.8" lengthAdjust="spacingAndGlyphs">(3 September 2019 00:00)</text>
<text x="268.4" y="14.2" font-size="11.2" text-anchor="middle" class="b" textLength="35.6" lengthAdjust="spacingAndGlyphs">Phase 3</text>
<text x="268.4" y="26" font-size="11.2" text-anchor="middle" class="b" textLength="119.8" lengthAdjust="spacingAndGlyphs">(5 September 2019 01:00)</text>
<text x="429" y="14.2" font-size="11.2" text-anchor="middle" class="b" textLength="35.6" lengthAdjust="spacingAndGlyphs">Phase 4</text>
<text x="429" y="26" font-size="11.2" text-anchor="middle" class="b" textLength="119.8" lengthAdjust="spacingAndGlyphs">(5 September 2019 10:00)</text>
<text x="34.6" y="38.7" font-size="9.5" text-anchor="end" >0.25</text>
<line x1="38.2" y1="35.6" x2="39.6" y2="35.6" stroke="#262626" stroke-width="0.5"/>
<line x1="174.7" y1="35.6" x2="173.3" y2="35.6" stroke="#262626" stroke-width="0.5"/>
<text x="34.6" y="73.9" font-size="9.5" text-anchor="end" >0.2</text>
<line x1="38.2" y1="70.8" x2="39.6" y2="70.8" stroke="#262626" stroke-width="0.5"/>
<line x1="174.7" y1="70.8" x2="173.3" y2="70.8" stroke="#262626" stroke-width="0.5"/>
<text x="34.6" y="109.1" font-size="9.5" text-anchor="end" >0.15</text>
<line x1="38.2" y1="106" x2="39.6" y2="106" stroke="#262626" stroke-width="0.5"/>
<line x1="174.7" y1="106" x2="173.3" y2="106" stroke="#262626" stroke-width="0.5"/>
<text x="34.6" y="144.3" font-size="9.5" text-anchor="end" >0.1</text>
<line x1="38.2" y1="141.2" x2="39.6" y2="141.2" stroke="#262626" stroke-width="0.5"/>
<line x1="174.7" y1="141.2" x2="173.3" y2="141.2" stroke="#262626" stroke-width="0.5"/>
<text x="34.6" y="179.5" font-size="9.5" text-anchor="end" >0.05</text>
<line x1="38.2" y1="176.4" x2="39.6" y2="176.4" stroke="#262626" stroke-width="0.5"/>
<line x1="174.7" y1="176.4" x2="173.3" y2="176.4" stroke="#262626" stroke-width="0.5"/>
<text x="38.2" y="192.3" font-size="9.5" text-anchor="middle">0<tspan font-size="7.4" dy="-5.2">&#176;</tspan></text>
<line x1="38.2" y1="176.4" x2="38.2" y2="175" stroke="#262626" stroke-width="0.5"/>
<line x1="38.2" y1="35.6" x2="38.2" y2="37" stroke="#262626" stroke-width="0.5"/>
<text x="72.325" y="192.3" font-size="9.5" text-anchor="middle">90<tspan font-size="7.4" dy="-5.2">&#176;</tspan></text>
<line x1="72.325" y1="176.4" x2="72.325" y2="175" stroke="#262626" stroke-width="0.5"/>
<line x1="72.325" y1="35.6" x2="72.325" y2="37" stroke="#262626" stroke-width="0.5"/>
<text x="106.45" y="192.3" font-size="9.5" text-anchor="middle">180<tspan font-size="7.4" dy="-5.2">&#176;</tspan></text>
<line x1="106.45" y1="176.4" x2="106.45" y2="175" stroke="#262626" stroke-width="0.5"/>
<line x1="106.45" y1="35.6" x2="106.45" y2="37" stroke="#262626" stroke-width="0.5"/>
<text x="140.575" y="192.3" font-size="9.5" text-anchor="middle">270<tspan font-size="7.4" dy="-5.2">&#176;</tspan></text>
<line x1="140.575" y1="176.4" x2="140.575" y2="175" stroke="#262626" stroke-width="0.5"/>
<line x1="140.575" y1="35.6" x2="140.575" y2="37" stroke="#262626" stroke-width="0.5"/>
<text x="174.7" y="192.3" font-size="9.5" text-anchor="middle">360<tspan font-size="7.4" dy="-5.2">&#176;</tspan></text>
<line x1="174.7" y1="176.4" x2="174.7" y2="175" stroke="#262626" stroke-width="0.5"/>
<line x1="174.7" y1="35.6" x2="174.7" y2="37" stroke="#262626" stroke-width="0.5"/>
<text x="105.25" y="201.8" font-size="10.3" text-anchor="middle" class="b" >(a1)</text>
<text x="195.8" y="38.7" font-size="9.5" text-anchor="end" >0.25</text>
<line x1="199.4" y1="35.6" x2="200.8" y2="35.6" stroke="#262626" stroke-width="0.5"/>
<line x1="336.2" y1="35.6" x2="334.8" y2="35.6" stroke="#262626" stroke-width="0.5"/>
<text x="195.8" y="73.9" font-size="9.5" text-anchor="end" >0.2</text>
<line x1="199.4" y1="70.8" x2="200.8" y2="70.8" stroke="#262626" stroke-width="0.5"/>
<line x1="336.2" y1="70.8" x2="334.8" y2="70.8" stroke="#262626" stroke-width="0.5"/>
<text x="195.8" y="109.1" font-size="9.5" text-anchor="end" >0.15</text>
<line x1="199.4" y1="106" x2="200.8" y2="106" stroke="#262626" stroke-width="0.5"/>
<line x1="336.2" y1="106" x2="334.8" y2="106" stroke="#262626" stroke-width="0.5"/>
<text x="195.8" y="144.3" font-size="9.5" text-anchor="end" >0.1</text>
<line x1="199.4" y1="141.2" x2="200.8" y2="141.2" stroke="#262626" stroke-width="0.5"/>
<line x1="336.2" y1="141.2" x2="334.8" y2="141.2" stroke="#262626" stroke-width="0.5"/>
<text x="195.8" y="179.5" font-size="9.5" text-anchor="end" >0.05</text>
<line x1="199.4" y1="176.4" x2="200.8" y2="176.4" stroke="#262626" stroke-width="0.5"/>
<line x1="336.2" y1="176.4" x2="334.8" y2="176.4" stroke="#262626" stroke-width="0.5"/>
<text x="199.4" y="192.3" font-size="9.5" text-anchor="middle">0<tspan font-size="7.4" dy="-5.2">&#176;</tspan></text>
<line x1="199.4" y1="176.4" x2="199.4" y2="175" stroke="#262626" stroke-width="0.5"/>
<line x1="199.4" y1="35.6" x2="199.4" y2="37" stroke="#262626" stroke-width="0.5"/>
<text x="233.6" y="192.3" font-size="9.5" text-anchor="middle">90<tspan font-size="7.4" dy="-5.2">&#176;</tspan></text>
<line x1="233.6" y1="176.4" x2="233.6" y2="175" stroke="#262626" stroke-width="0.5"/>
<line x1="233.6" y1="35.6" x2="233.6" y2="37" stroke="#262626" stroke-width="0.5"/>
<text x="267.8" y="192.3" font-size="9.5" text-anchor="middle">180<tspan font-size="7.4" dy="-5.2">&#176;</tspan></text>
<line x1="267.8" y1="176.4" x2="267.8" y2="175" stroke="#262626" stroke-width="0.5"/>
<line x1="267.8" y1="35.6" x2="267.8" y2="37" stroke="#262626" stroke-width="0.5"/>
<text x="302" y="192.3" font-size="9.5" text-anchor="middle">270<tspan font-size="7.4" dy="-5.2">&#176;</tspan></text>
<line x1="302" y1="176.4" x2="302" y2="175" stroke="#262626" stroke-width="0.5"/>
<line x1="302" y1="35.6" x2="302" y2="37" stroke="#262626" stroke-width="0.5"/>
<text x="336.2" y="192.3" font-size="9.5" text-anchor="middle">360<tspan font-size="7.4" dy="-5.2">&#176;</tspan></text>
<line x1="336.2" y1="176.4" x2="336.2" y2="175" stroke="#262626" stroke-width="0.5"/>
<line x1="336.2" y1="35.6" x2="336.2" y2="37" stroke="#262626" stroke-width="0.5"/>
<text x="266.6" y="201.8" font-size="10.3" text-anchor="middle" class="b" >(b1)</text>
<text x="356.6" y="38.7" font-size="9.5" text-anchor="end" >0.25</text>
<line x1="360.2" y1="35.6" x2="361.6" y2="35.6" stroke="#262626" stroke-width="0.5"/>
<line x1="496.6" y1="35.6" x2="495.2" y2="35.6" stroke="#262626" stroke-width="0.5"/>
<text x="356.6" y="73.9" font-size="9.5" text-anchor="end" >0.2</text>
<line x1="360.2" y1="70.8" x2="361.6" y2="70.8" stroke="#262626" stroke-width="0.5"/>
<line x1="496.6" y1="70.8" x2="495.2" y2="70.8" stroke="#262626" stroke-width="0.5"/>
<text x="356.6" y="109.1" font-size="9.5" text-anchor="end" >0.15</text>
<line x1="360.2" y1="106" x2="361.6" y2="106" stroke="#262626" stroke-width="0.5"/>
<line x1="496.6" y1="106" x2="495.2" y2="106" stroke="#262626" stroke-width="0.5"/>
<text x="356.6" y="144.3" font-size="9.5" text-anchor="end" >0.1</text>
<line x1="360.2" y1="141.2" x2="361.6" y2="141.2" stroke="#262626" stroke-width="0.5"/>
<line x1="496.6" y1="141.2" x2="495.2" y2="141.2" stroke="#262626" stroke-width="0.5"/>
<text x="356.6" y="179.5" font-size="9.5" text-anchor="end" >0.05</text>
<line x1="360.2" y1="176.4" x2="361.6" y2="176.4" stroke="#262626" stroke-width="0.5"/>
<line x1="496.6" y1="176.4" x2="495.2" y2="176.4" stroke="#262626" stroke-width="0.5"/>
<text x="360.2" y="192.3" font-size="9.5" text-anchor="middle">0<tspan font-size="7.4" dy="-5.2">&#176;</tspan></text>
<line x1="360.2" y1="176.4" x2="360.2" y2="175" stroke="#262626" stroke-width="0.5"/>
<line x1="360.2" y1="35.6" x2="360.2" y2="37" stroke="#262626" stroke-width="0.5"/>
<text x="394.3" y="192.3" font-size="9.5" text-anchor="middle">90<tspan font-size="7.4" dy="-5.2">&#176;</tspan></text>
<line x1="394.3" y1="176.4" x2="394.3" y2="175" stroke="#262626" stroke-width="0.5"/>
<line x1="394.3" y1="35.6" x2="394.3" y2="37" stroke="#262626" stroke-width="0.5"/>
<text x="428.4" y="192.3" font-size="9.5" text-anchor="middle">180<tspan font-size="7.4" dy="-5.2">&#176;</tspan></text>
<line x1="428.4" y1="176.4" x2="428.4" y2="175" stroke="#262626" stroke-width="0.5"/>
<line x1="428.4" y1="35.6" x2="428.4" y2="37" stroke="#262626" stroke-width="0.5"/>
<text x="462.5" y="192.3" font-size="9.5" text-anchor="middle">270<tspan font-size="7.4" dy="-5.2">&#176;</tspan></text>
<line x1="462.5" y1="176.4" x2="462.5" y2="175" stroke="#262626" stroke-width="0.5"/>
<line x1="462.5" y1="35.6" x2="462.5" y2="37" stroke="#262626" stroke-width="0.5"/>
<text x="496.6" y="192.3" font-size="9.5" text-anchor="middle">360<tspan font-size="7.4" dy="-5.2">&#176;</tspan></text>
<line x1="496.6" y1="176.4" x2="496.6" y2="175" stroke="#262626" stroke-width="0.5"/>
<line x1="496.6" y1="35.6" x2="496.6" y2="37" stroke="#262626" stroke-width="0.5"/>
<text x="427.2" y="201.8" font-size="10.3" text-anchor="middle" class="b" >(c1)</text>
<text x="34.6" y="213.7" font-size="9.5" text-anchor="end" >0.25</text>
<line x1="38.2" y1="210.6" x2="39.6" y2="210.6" stroke="#262626" stroke-width="0.5"/>
<line x1="174.7" y1="210.6" x2="173.3" y2="210.6" stroke="#262626" stroke-width="0.5"/>
<text x="34.6" y="248.9" font-size="9.5" text-anchor="end" >0.2</text>
<line x1="38.2" y1="245.8" x2="39.6" y2="245.8" stroke="#262626" stroke-width="0.5"/>
<line x1="174.7" y1="245.8" x2="173.3" y2="245.8" stroke="#262626" stroke-width="0.5"/>
<text x="34.6" y="284.1" font-size="9.5" text-anchor="end" >0.15</text>
<line x1="38.2" y1="281" x2="39.6" y2="281" stroke="#262626" stroke-width="0.5"/>
<line x1="174.7" y1="281" x2="173.3" y2="281" stroke="#262626" stroke-width="0.5"/>
<text x="34.6" y="319.3" font-size="9.5" text-anchor="end" >0.1</text>
<line x1="38.2" y1="316.2" x2="39.6" y2="316.2" stroke="#262626" stroke-width="0.5"/>
<line x1="174.7" y1="316.2" x2="173.3" y2="316.2" stroke="#262626" stroke-width="0.5"/>
<text x="34.6" y="354.5" font-size="9.5" text-anchor="end" >0.05</text>
<line x1="38.2" y1="351.4" x2="39.6" y2="351.4" stroke="#262626" stroke-width="0.5"/>
<line x1="174.7" y1="351.4" x2="173.3" y2="351.4" stroke="#262626" stroke-width="0.5"/>
<text x="38.2" y="367.3" font-size="9.5" text-anchor="middle">0<tspan font-size="7.4" dy="-5.2">&#176;</tspan></text>
<line x1="38.2" y1="351.4" x2="38.2" y2="350" stroke="#262626" stroke-width="0.5"/>
<line x1="38.2" y1="210.6" x2="38.2" y2="212" stroke="#262626" stroke-width="0.5"/>
<text x="72.325" y="367.3" font-size="9.5" text-anchor="middle">90<tspan font-size="7.4" dy="-5.2">&#176;</tspan></text>
<line x1="72.325" y1="351.4" x2="72.325" y2="350" stroke="#262626" stroke-width="0.5"/>
<line x1="72.325" y1="210.6" x2="72.325" y2="212" stroke="#262626" stroke-width="0.5"/>
<text x="106.45" y="367.3" font-size="9.5" text-anchor="middle">180<tspan font-size="7.4" dy="-5.2">&#176;</tspan></text>
<line x1="106.45" y1="351.4" x2="106.45" y2="350" stroke="#262626" stroke-width="0.5"/>
<line x1="106.45" y1="210.6" x2="106.45" y2="212" stroke="#262626" stroke-width="0.5"/>
<text x="140.575" y="367.3" font-size="9.5" text-anchor="middle">270<tspan font-size="7.4" dy="-5.2">&#176;</tspan></text>
<line x1="140.575" y1="351.4" x2="140.575" y2="350" stroke="#262626" stroke-width="0.5"/>
<line x1="140.575" y1="210.6" x2="140.575" y2="212" stroke="#262626" stroke-width="0.5"/>
<text x="174.7" y="367.3" font-size="9.5" text-anchor="middle">360<tspan font-size="7.4" dy="-5.2">&#176;</tspan></text>
<line x1="174.7" y1="351.4" x2="174.7" y2="350" stroke="#262626" stroke-width="0.5"/>
<line x1="174.7" y1="210.6" x2="174.7" y2="212" stroke="#262626" stroke-width="0.5"/>
<text x="105.25" y="376.8" font-size="10.3" text-anchor="middle" class="b" >(a2)</text>
<text x="195.8" y="213.7" font-size="9.5" text-anchor="end" >0.25</text>
<line x1="199.4" y1="210.6" x2="200.8" y2="210.6" stroke="#262626" stroke-width="0.5"/>
<line x1="336.2" y1="210.6" x2="334.8" y2="210.6" stroke="#262626" stroke-width="0.5"/>
<text x="195.8" y="248.9" font-size="9.5" text-anchor="end" >0.2</text>
<line x1="199.4" y1="245.8" x2="200.8" y2="245.8" stroke="#262626" stroke-width="0.5"/>
<line x1="336.2" y1="245.8" x2="334.8" y2="245.8" stroke="#262626" stroke-width="0.5"/>
<text x="195.8" y="284.1" font-size="9.5" text-anchor="end" >0.15</text>
<line x1="199.4" y1="281" x2="200.8" y2="281" stroke="#262626" stroke-width="0.5"/>
<line x1="336.2" y1="281" x2="334.8" y2="281" stroke="#262626" stroke-width="0.5"/>
<text x="195.8" y="319.3" font-size="9.5" text-anchor="end" >0.1</text>
<line x1="199.4" y1="316.2" x2="200.8" y2="316.2" stroke="#262626" stroke-width="0.5"/>
<line x1="336.2" y1="316.2" x2="334.8" y2="316.2" stroke="#262626" stroke-width="0.5"/>
<text x="195.8" y="354.5" font-size="9.5" text-anchor="end" >0.05</text>
<line x1="199.4" y1="351.4" x2="200.8" y2="351.4" stroke="#262626" stroke-width="0.5"/>
<line x1="336.2" y1="351.4" x2="334.8" y2="351.4" stroke="#262626" stroke-width="0.5"/>
<text x="199.4" y="367.3" font-size="9.5" text-anchor="middle">0<tspan font-size="7.4" dy="-5.2">&#176;</tspan></text>
<line x1="199.4" y1="351.4" x2="199.4" y2="350" stroke="#262626" stroke-width="0.5"/>
<line x1="199.4" y1="210.6" x2="199.4" y2="212" stroke="#262626" stroke-width="0.5"/>
<text x="233.6" y="367.3" font-size="9.5" text-anchor="middle">90<tspan font-size="7.4" dy="-5.2">&#176;</tspan></text>
<line x1="233.6" y1="351.4" x2="233.6" y2="350" stroke="#262626" stroke-width="0.5"/>
<line x1="233.6" y1="210.6" x2="233.6" y2="212" stroke="#262626" stroke-width="0.5"/>
<text x="267.8" y="367.3" font-size="9.5" text-anchor="middle">180<tspan font-size="7.4" dy="-5.2">&#176;</tspan></text>
<line x1="267.8" y1="351.4" x2="267.8" y2="350" stroke="#262626" stroke-width="0.5"/>
<line x1="267.8" y1="210.6" x2="267.8" y2="212" stroke="#262626" stroke-width="0.5"/>
<text x="302" y="367.3" font-size="9.5" text-anchor="middle">270<tspan font-size="7.4" dy="-5.2">&#176;</tspan></text>
<line x1="302" y1="351.4" x2="302" y2="350" stroke="#262626" stroke-width="0.5"/>
<line x1="302" y1="210.6" x2="302" y2="212" stroke="#262626" stroke-width="0.5"/>
<text x="336.2" y="367.3" font-size="9.5" text-anchor="middle">360<tspan font-size="7.4" dy="-5.2">&#176;</tspan></text>
<line x1="336.2" y1="351.4" x2="336.2" y2="350" stroke="#262626" stroke-width="0.5"/>
<line x1="336.2" y1="210.6" x2="336.2" y2="212" stroke="#262626" stroke-width="0.5"/>
<text x="266.6" y="376.8" font-size="10.3" text-anchor="middle" class="b" >(b2)</text>
<text x="356.6" y="213.7" font-size="9.5" text-anchor="end" >0.25</text>
<line x1="360.2" y1="210.6" x2="361.6" y2="210.6" stroke="#262626" stroke-width="0.5"/>
<line x1="496.6" y1="210.6" x2="495.2" y2="210.6" stroke="#262626" stroke-width="0.5"/>
<text x="356.6" y="248.9" font-size="9.5" text-anchor="end" >0.2</text>
<line x1="360.2" y1="245.8" x2="361.6" y2="245.8" stroke="#262626" stroke-width="0.5"/>
<line x1="496.6" y1="245.8" x2="495.2" y2="245.8" stroke="#262626" stroke-width="0.5"/>
<text x="356.6" y="284.1" font-size="9.5" text-anchor="end" >0.15</text>
<line x1="360.2" y1="281" x2="361.6" y2="281" stroke="#262626" stroke-width="0.5"/>
<line x1="496.6" y1="281" x2="495.2" y2="281" stroke="#262626" stroke-width="0.5"/>
<text x="356.6" y="319.3" font-size="9.5" text-anchor="end" >0.1</text>
<line x1="360.2" y1="316.2" x2="361.6" y2="316.2" stroke="#262626" stroke-width="0.5"/>
<line x1="496.6" y1="316.2" x2="495.2" y2="316.2" stroke="#262626" stroke-width="0.5"/>
<text x="356.6" y="354.5" font-size="9.5" text-anchor="end" >0.05</text>
<line x1="360.2" y1="351.4" x2="361.6" y2="351.4" stroke="#262626" stroke-width="0.5"/>
<line x1="496.6" y1="351.4" x2="495.2" y2="351.4" stroke="#262626" stroke-width="0.5"/>
<text x="360.2" y="367.3" font-size="9.5" text-anchor="middle">0<tspan font-size="7.4" dy="-5.2">&#176;</tspan></text>
<line x1="360.2" y1="351.4" x2="360.2" y2="350" stroke="#262626" stroke-width="0.5"/>
<line x1="360.2" y1="210.6" x2="360.2" y2="212" stroke="#262626" stroke-width="0.5"/>
<text x="394.3" y="367.3" font-size="9.5" text-anchor="middle">90<tspan font-size="7.4" dy="-5.2">&#176;</tspan></text>
<line x1="394.3" y1="351.4" x2="394.3" y2="350" stroke="#262626" stroke-width="0.5"/>
<line x1="394.3" y1="210.6" x2="394.3" y2="212" stroke="#262626" stroke-width="0.5"/>
<text x="428.4" y="367.3" font-size="9.5" text-anchor="middle">180<tspan font-size="7.4" dy="-5.2">&#176;</tspan></text>
<line x1="428.4" y1="351.4" x2="428.4" y2="350" stroke="#262626" stroke-width="0.5"/>
<line x1="428.4" y1="210.6" x2="428.4" y2="212" stroke="#262626" stroke-width="0.5"/>
<text x="462.5" y="367.3" font-size="9.5" text-anchor="middle">270<tspan font-size="7.4" dy="-5.2">&#176;</tspan></text>
<line x1="462.5" y1="351.4" x2="462.5" y2="350" stroke="#262626" stroke-width="0.5"/>
<line x1="462.5" y1="210.6" x2="462.5" y2="212" stroke="#262626" stroke-width="0.5"/>
<text x="496.6" y="367.3" font-size="9.5" text-anchor="middle">360<tspan font-size="7.4" dy="-5.2">&#176;</tspan></text>
<line x1="496.6" y1="351.4" x2="496.6" y2="350" stroke="#262626" stroke-width="0.5"/>
<line x1="496.6" y1="210.6" x2="496.6" y2="212" stroke="#262626" stroke-width="0.5"/>
<text x="427.2" y="376.8" font-size="10.3" text-anchor="middle" class="b" >(c2)</text>
<text transform="translate(14.8,194.7) rotate(-90)" font-size="11.8" text-anchor="middle" textLength="72.6" lengthAdjust="spacingAndGlyphs">Frequency (Hz)</text>
<text x="264.6" y="394.2" font-size="11.2" text-anchor="middle" textLength="129.2" lengthAdjust="spacingAndGlyphs">Direction (clockwise from N)</text>
<defs><linearGradient id="gp" x1="0" y1="0" x2="0" y2="1"><stop offset="0.0000" stop-color="#f9fb15"/><stop offset="0.0476" stop-color="#f5e924"/><stop offset="0.0952" stop-color="#fad62d"/><stop offset="0.1429" stop-color="#fec338"/><stop offset="0.1905" stop-color="#f0ba36"/><stop offset="0.2381" stop-color="#d1bf27"/><stop offset="0.2857" stop-color="#abc739"/><stop offset="0.3333" stop-color="#81cc59"/><stop offset="0.3810" stop-color="#57cc7a"/><stop offset="0.4286" stop-color="#37c897"/><stop offset="0.4762" stop-color="#24c1ae"/><stop offset="0.5238" stop-color="#02bac3"/><stop offset="0.5714" stop-color="#12b1d6"/><stop offset="0.6190" stop-color="#20a5e3"/><stop offset="0.6667" stop-color="#2797eb"/><stop offset="0.7143" stop-color="#2e87f7"/><stop offset="0.7619" stop-color="#3875fe"/><stop offset="0.8095" stop-color="#4563fd"/><stop offset="0.8571" stop-color="#4852f4"/><stop offset="0.9048" stop-color="#4741e5"/><stop offset="0.9524" stop-color="#4332cb"/><stop offset="1.0000" stop-color="#3e26a8"/></linearGradient>
<linearGradient id="gr" x1="0" y1="0" x2="0" y2="1"><stop offset="0" stop-color="#ff0000"/><stop offset="0.5" stop-color="#ffffff"/><stop offset="1" stop-color="#0000ff"/></linearGradient></defs>
<rect x="507.4" y="35.6" width="6.6" height="140.8" fill="url(#gp)" stroke="#262626" stroke-width="0.5"/>
<rect x="507.4" y="210.6" width="6.6" height="140.8" fill="url(#gr)" stroke="#262626" stroke-width="0.5"/>
<text x="516.4" y="38.7" font-size="9.5" text-anchor="start" >3.5</text>
<line x1="514" y1="35.6" x2="512.6" y2="35.6" stroke="#262626" stroke-width="0.5"/>
<text x="516.4" y="62.1667" font-size="9.5" text-anchor="start" >3</text>
<line x1="514" y1="59.0667" x2="512.6" y2="59.0667" stroke="#262626" stroke-width="0.5"/>
<text x="516.4" y="85.6333" font-size="9.5" text-anchor="start" >2.5</text>
<line x1="514" y1="82.5333" x2="512.6" y2="82.5333" stroke="#262626" stroke-width="0.5"/>
<text x="516.4" y="109.1" font-size="9.5" text-anchor="start" >2</text>
<line x1="514" y1="106" x2="512.6" y2="106" stroke="#262626" stroke-width="0.5"/>
<text x="516.4" y="132.567" font-size="9.5" text-anchor="start" >1.5</text>
<line x1="514" y1="129.467" x2="512.6" y2="129.467" stroke="#262626" stroke-width="0.5"/>
<text x="516.4" y="156.033" font-size="9.5" text-anchor="start" >1</text>
<line x1="514" y1="152.933" x2="512.6" y2="152.933" stroke="#262626" stroke-width="0.5"/>
<text x="516.4" y="179.5" font-size="9.5" text-anchor="start" >0.5</text>
<line x1="514" y1="176.4" x2="512.6" y2="176.4" stroke="#262626" stroke-width="0.5"/>
<text x="516.2" y="213.7" font-size="9.6" text-anchor="start" >2.0</text>
<line x1="514" y1="210.6" x2="512.6" y2="210.6" stroke="#262626" stroke-width="0.5"/>
<text x="516.2" y="231.3" font-size="9.6" text-anchor="start" >1.5</text>
<line x1="514" y1="228.2" x2="512.6" y2="228.2" stroke="#262626" stroke-width="0.5"/>
<text x="516.2" y="248.9" font-size="9.6" text-anchor="start" >1.0</text>
<line x1="514" y1="245.8" x2="512.6" y2="245.8" stroke="#262626" stroke-width="0.5"/>
<text x="516.2" y="266.5" font-size="9.6" text-anchor="start" >0.5</text>
<line x1="514" y1="263.4" x2="512.6" y2="263.4" stroke="#262626" stroke-width="0.5"/>
<text x="516.2" y="284.1" font-size="9.6" text-anchor="start" >0.0</text>
<line x1="514" y1="281" x2="512.6" y2="281" stroke="#262626" stroke-width="0.5"/>
<text x="515.6" y="301.7" font-size="9.6" text-anchor="start" >&#8722;0.5</text>
<line x1="514" y1="298.6" x2="512.6" y2="298.6" stroke="#262626" stroke-width="0.5"/>
<text x="515.6" y="319.3" font-size="9.6" text-anchor="start" >&#8722;1.0</text>
<line x1="514" y1="316.2" x2="512.6" y2="316.2" stroke="#262626" stroke-width="0.5"/>
<text x="515.6" y="336.9" font-size="9.6" text-anchor="start" >&#8722;1.5</text>
<line x1="514" y1="333.8" x2="512.6" y2="333.8" stroke="#262626" stroke-width="0.5"/>
<text x="515.6" y="354.5" font-size="9.6" text-anchor="start" >&#8722;2.0</text>
<line x1="514" y1="351.4" x2="512.6" y2="351.4" stroke="#262626" stroke-width="0.5"/>
<text transform="translate(543.2,105) rotate(-90)" font-size="9.1" text-anchor="middle" textLength="158" lengthAdjust="spacingAndGlyphs">Logarithmic engergy density (J/m<tspan font-size="6.4" dy="-3.4">2</tspan><tspan dy="3.4">/Hz/degr)</tspan></text>
<text transform="translate(543.4,283.2) rotate(-90)" font-size="8.8" text-anchor="middle" textLength="70.5" lengthAdjust="spacingAndGlyphs">Normalized error (%)</text>
</svg>
</body></html>
